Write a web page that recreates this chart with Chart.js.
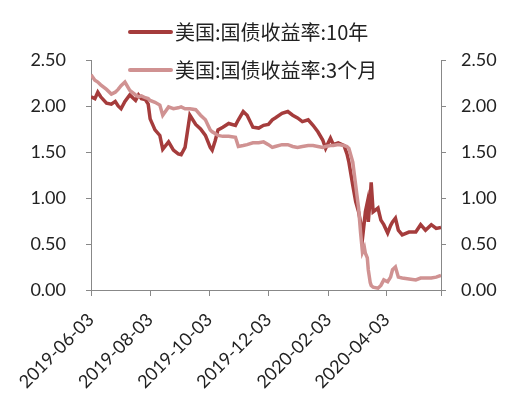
<!DOCTYPE html>
<html>
<head>
<meta charset="utf-8">
<script src="https://cdn.jsdelivr.net/npm/chart.js@4.4.0/dist/chart.umd.min.js"></script>
<style>
html, body { margin: 0; padding: 0; background: #fff; }
#wrap { width: 508px; height: 403px; }
</style>
</head>
<body>
<div id="wrap"><canvas id="grafico" width="508" height="403"></canvas></div>
<script>
// datos (aprox.)
const fechas = [
  '2019-06-03','2019-06-07','2019-06-10','2019-06-13','2019-06-19','2019-06-24','2019-06-28',
  '2019-07-01','2019-07-04','2019-07-08','2019-07-13','2019-07-19','2019-07-22','2019-07-25','2019-07-29',
  '2019-08-01','2019-08-03','2019-08-08','2019-08-13','2019-08-16','2019-08-22','2019-08-27',
  '2019-09-01','2019-09-04','2019-09-08','2019-09-13','2019-09-19','2019-09-24','2019-09-29',
  '2019-10-04','2019-10-06','2019-10-09','2019-10-12','2019-10-17','2019-10-23','2019-10-30',
  '2019-11-02','2019-11-07','2019-11-11','2019-11-17','2019-11-23','2019-11-28',
  '2019-12-03','2019-12-07','2019-12-10','2019-12-17','2019-12-23','2019-12-28',
  '2020-01-02','2020-01-07','2020-01-13','2020-01-18','2020-01-23','2020-01-28','2020-01-31',
  '2020-02-05','2020-02-08','2020-02-13','2020-02-19','2020-02-22','2020-02-24','2020-02-28',
  '2020-03-02','2020-03-05','2020-03-07','2020-03-09','2020-03-11','2020-03-12','2020-03-14','2020-03-15',
  '2020-03-17','2020-03-18','2020-03-20','2020-03-25','2020-03-28','2020-03-31',
  '2020-04-04','2020-04-07','2020-04-09','2020-04-12','2020-04-15','2020-04-19','2020-04-26',
  '2020-05-03','2020-05-08','2020-05-13','2020-05-19','2020-05-24','2020-05-29'
];
const tasa10a = [
  2.10,2.08,2.15,2.10,2.03,2.02,2.05,
  2.00,1.97,2.05,2.12,2.06,2.12,2.08,2.07,
  2.02,1.86,1.74,1.68,1.53,1.61,1.52,
  1.48,1.47,1.55,1.90,1.80,1.75,1.68,
  1.55,1.52,1.62,1.74,1.77,1.81,1.79,
  1.85,1.94,1.90,1.77,1.76,1.79,
  1.80,1.85,1.87,1.92,1.94,1.90,
  1.87,1.83,1.85,1.79,1.72,1.63,1.54,
  1.65,1.58,1.60,1.57,1.48,1.39,1.14,
  0.96,0.85,0.74,0.56,0.75,0.85,0.95,0.74,
  1.00,1.17,0.85,0.89,0.76,0.71,
  0.62,0.70,0.74,0.78,0.65,0.60,0.63,
  0.63,0.71,0.65,0.71,0.67,0.68
];
const tasa3m = [
  2.34,2.28,2.26,2.23,2.18,2.13,2.15,
  2.18,2.22,2.26,2.17,2.12,2.10,2.11,2.09,
  2.08,2.06,2.04,2.01,1.90,1.99,1.97,
  1.98,1.99,1.97,1.97,1.96,1.90,1.85,
  1.74,1.72,1.70,1.68,1.67,1.67,1.66,
  1.56,1.57,1.58,1.60,1.60,1.61,
  1.58,1.55,1.56,1.58,1.58,1.56,
  1.55,1.56,1.57,1.57,1.56,1.55,1.56,
  1.57,1.57,1.58,1.57,1.56,1.54,1.39,
  1.14,0.89,0.63,0.41,0.46,0.40,0.35,0.22,
  0.08,0.05,0.03,0.02,0.05,0.11,
  0.09,0.14,0.22,0.25,0.14,0.13,0.12,
  0.11,0.13,0.13,0.13,0.14,0.16
];
const etiquetasX = ['2019-06-03','2019-08-03','2019-10-03','2019-12-03','2020-02-03','2020-04-03'];
const fechaFin = '2020-05-29';
const nombres = ['美国:国债收益率:10年', '美国:国债收益率:3个月'];
const colores = ['#A53C3C', '#D09292'];

const FUENTE = 'Lato, "Liberation Sans", sans-serif';

function dias(s) {
  const p = s.split('-').map(Number);
  return (Date.UTC(p[0], p[1] - 1, p[2]) - Date.UTC(2019, 5, 3)) / 86400000;
}

const posTicks = etiquetasX.map(dias);
const diaFin = dias(fechaFin);

// leyenda dibujada a mano (se superpone al area del grafico como en el original)
const leyenda = {
  id: 'leyenda',
  afterDraw(chart) {
    const ctx = chart.ctx;
    ctx.save();
    ctx.font = '20px "Noto Sans CJK SC", sans-serif';
    ctx.textBaseline = 'middle';
    ctx.fillStyle = '#222';
    [32, 70].forEach((y, i) => {
      ctx.strokeStyle = colores[i];
      ctx.lineWidth = 4;
      ctx.lineCap = 'round';
      ctx.beginPath();
      ctx.moveTo(130, y);
      ctx.lineTo(171, y);
      ctx.stroke();
      ctx.fillText(nombres[i], 175, y);
    });
    ctx.restore();
  }
};

function ejeY(pos, pad) {
  return {
    type: 'linear',
    position: pos,
    min: 0, max: 2.5,
    afterFit: s => { s.width = pos === 'left' ? 91 : 67; },
    ticks: {
      stepSize: 0.5,
      padding: pad,
      color: '#222',
      font: { family: FUENTE, size: 18 },
      callback: v => Number(v).toFixed(2)
    },
    grid: { drawOnChartArea: false, tickLength: 5, color: '#888' },
    border: { display: true, color: '#888', width: 1 }
  };
}

new Chart(document.getElementById('grafico'), {
  type: 'line',
  data: {
    datasets: [
      {
        label: nombres[0],
        data: fechas.map((f, i) => ({ x: dias(f), y: tasa10a[i] })),
        borderColor: colores[0],
        borderWidth: 3.5,
        pointRadius: 0,
        tension: 0,
        order: 2
      },
      {
        label: nombres[1],
        data: fechas.map((f, i) => ({ x: dias(f), y: tasa3m[i] })),
        borderColor: colores[1],
        borderWidth: 3.5,
        pointRadius: 0,
        tension: 0,
        order: 1
      }
    ]
  },
  options: {
    responsive: false,
    animation: false,
    devicePixelRatio: 1,
    layout: { padding: { top: 60, left: 0, right: 0, bottom: 0 } },
    plugins: { legend: { display: false }, tooltip: { enabled: false } },
    scales: {
      x: {
        type: 'linear',
        min: 0, max: diaFin,
        afterFit: s => { s.height = 113; },
        afterBuildTicks: s => { s.ticks = posTicks.concat([diaFin]).map(v => ({ value: v })); },
        ticks: {
          autoSkip: false,
          minRotation: 45,
          maxRotation: 45,
          padding: 13,
          color: '#222',
          font: { family: FUENTE, size: 18 },
          callback: v => {
            const k = posTicks.indexOf(v);
            return k >= 0 ? etiquetasX[k] : '';
          }
        },
        grid: { drawOnChartArea: false, tickLength: 6, color: '#888' },
        border: { display: true, color: '#888', width: 1 }
      },
      y: ejeY('left', 20),
      y2: ejeY('right', 15)
    }
  },
  plugins: [leyenda]
});
</script>
</body>
</html>
